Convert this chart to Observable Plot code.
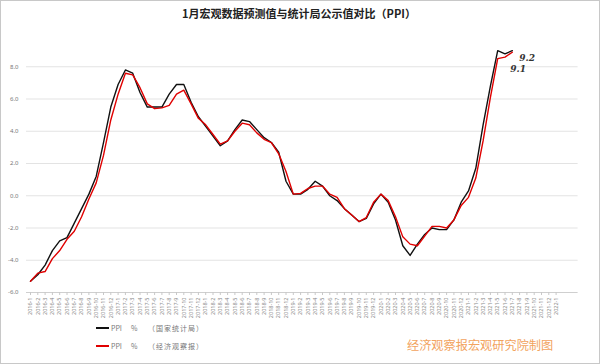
<!DOCTYPE html>
<html><head><meta charset="utf-8">
<script src="https://cdn.jsdelivr.net/npm/d3@7"></script>
<script src="https://cdn.jsdelivr.net/npm/@observablehq/plot@0.6"></script>
<style>
body{margin:0;background:#fff;}
#wrap{position:relative;width:600px;height:364px;overflow:hidden;font-family:"Noto Sans CJK SC","Noto Sans",sans-serif;background:#fff;}
#frame{position:absolute;left:0;top:0;width:600px;height:364px;box-sizing:border-box;border:1px solid #c8c8c8;pointer-events:none;}
#title{position:absolute;top:5px;left:0;width:598px;text-align:center;font-size:11px;font-weight:bold;color:#222;line-height:16px;}
#chart{position:absolute;left:0;top:0;}
.leg{position:absolute;left:96px;font-size:7px;color:#777;line-height:10px;height:10px;white-space:nowrap;}
.leg .sw{position:absolute;left:0;top:4px;width:13px;height:2px;}
.leg .a{position:absolute;left:15px;top:0;}
.leg .b{position:absolute;left:35px;top:0;}
.leg .c{position:absolute;left:52px;top:0;letter-spacing:1px;}
#mark{position:absolute;left:407px;top:337px;font-size:12.2px;color:#f2a35e;line-height:16px;white-space:nowrap;}
</style></head>
<body>
<div id="wrap">
  <div id="chart"></div>
  <div id="title"></div>
  <div class="leg" id="leg1" style="top:323px"><span class="sw" style="background:#111"></span><span class="a"></span><span class="b"></span><span class="c"></span></div>
  <div class="leg" id="leg2" style="top:341px"><span class="sw" style="background:#e00000"></span><span class="a"></span><span class="b"></span><span class="c"></span></div>
  <div id="mark"></div>
  <div id="frame"></div>
</div>
<script>
const titleText = "1月宏观数据预测值与统计局公示值对比（PPI）";
const watermark = "经济观察报宏观研究院制图";
const seriesNames = ["PPI", "PPI"];
const seriesUnits = ["%", "%"];
const seriesSources = ["（国家统计局）", "（经济观察报）"];
const annotations = ["9.2", "9.1"];

const months = [
 "2016-1","2016-2","2016-3","2016-4","2016-5","2016-6","2016-7","2016-8","2016-9","2016-10","2016-11","2016-12",
 "2017-1","2017-2","2017-3","2017-4","2017-5","2017-6","2017-7","2017-8","2017-9","2017-10","2017-11","2017-12",
 "2018-1","2018-2","2018-3","2018-4","2018-5","2018-6","2018-7","2018-8","2018-9","2018-10","2018-11","2018-12",
 "2019-1","2019-2","2019-3","2019-4","2019-5","2019-6","2019-7","2019-8","2019-9","2019-10","2019-11","2019-12",
 "2020-1","2020-2","2020-3","2020-4","2020-5","2020-6","2020-7","2020-8","2020-9","2020-10","2020-11","2020-12",
 "2021-1","2021-2","2021-3","2021-4","2021-5","2021-6","2021-7","2021-8","2021-9","2021-10","2021-11","2021-12",
 "2022-1"
];

// 国家统计局
const actual = [
 -5.3,-4.9,-4.3,-3.4,-2.8,-2.6,-1.7,-0.8,0.1,1.2,3.3,5.5,
 6.9,7.8,7.6,6.4,5.5,5.5,5.5,6.3,6.9,6.9,5.8,4.9,
 4.3,3.7,3.1,3.4,4.1,4.7,4.6,4.1,3.6,3.3,2.7,0.9,
 0.1,0.1,0.4,0.9,0.6,0.0,-0.3,-0.8,-1.2,-1.6,-1.4,-0.5,
 0.1,-0.4,-1.5,-3.1,-3.7,-3.0,-2.4,-2.0,-2.1,-2.1,-1.5,-0.4,
 0.3,1.7,4.4,6.8,9.0,8.8,9.0
];
// 经济观察报
const forecast = [
 -5.3,-4.8,-4.7,-3.9,-3.4,-2.7,-2.2,-1.3,-0.2,0.8,2.5,4.7,
 6.3,7.6,7.5,6.7,5.7,5.4,5.45,5.6,6.3,6.55,5.7,4.8,
 4.4,3.8,3.2,3.4,4.0,4.5,4.4,3.9,3.5,3.3,2.6,1.5,
 0.1,0.15,0.45,0.6,0.6,0.1,-0.1,-0.8,-1.2,-1.6,-1.35,-0.4,
 0.1,-0.3,-1.3,-2.55,-3.0,-3.1,-2.5,-1.9,-1.9,-2.0,-1.5,-0.6,
 -0.1,1.1,3.4,6.1,8.5,8.6,8.9
];
const yTicks = [-6, -4, -2, 0, 2, 4, 6, 8];

document.getElementById("title").textContent = titleText;
document.getElementById("mark").textContent = watermark;
["leg1","leg2"].forEach((id, i) => {
  const el = document.getElementById(id);
  el.querySelector(".a").textContent = seriesNames[i];
  el.querySelector(".b").textContent = seriesUnits[i];
  el.querySelector(".c").textContent = seriesSources[i];
});

const actualData = actual.map((v, i) => ({m: months[i], v}));
const forecastData = forecast.map((v, i) => ({m: months[i], v}));
const lastA = actualData[actualData.length - 1];

const chart = Plot.plot({
  width: 600, height: 320,
  marginLeft: 30, marginRight: 44.4, marginTop: 34, marginBottom: 28,
  x: {type: "point", domain: months, padding: 0, round: false, label: null},
  y: {domain: [-6, 10], label: null},
  style: {background: "transparent", fontFamily: "'Noto Sans','DejaVu Sans',sans-serif"},
  marks: [
    Plot.ruleY(yTicks.filter(d => d !== -6), {stroke: "#e3e3e3", strokeWidth: 1, insetLeft: -4, insetRight: -22}),
    Plot.ruleY([-6], {stroke: "#cfcfcf", strokeWidth: 1, insetLeft: -4, insetRight: -22}),
    Plot.axisY({ticks: yTicks, tickFormat: d => d.toFixed(1), tickSize: 0, tickPadding: 12, fontSize: 6, fill: "#777", label: null}),
    Plot.axisX({tickRotate: -90, tickSize: 3, tickPadding: 2, fontSize: 5.5, fill: "#888", stroke: "#c8c8c8", label: null}),
    Plot.lineY(actualData, {x: "m", y: "v", stroke: "#111", strokeWidth: 1.4}),
    Plot.lineY(forecastData, {x: "m", y: "v", stroke: "#e00000", strokeWidth: 1.4}),
    Plot.text([lastA], {x: "m", y: "v", text: () => annotations[0], dx: 7, dy: 7, textAnchor: "start",
      fontSize: 9, fontWeight: "bold", fontStyle: "italic", fontFamily: "'DejaVu Serif','Liberation Serif',serif", fill: "#333"}),
    Plot.text([lastA], {x: "m", y: "v", text: () => annotations[1], dx: -2, dy: 18, textAnchor: "start",
      fontSize: 9, fontWeight: "bold", fontStyle: "italic", fontFamily: "'DejaVu Serif','Liberation Serif',serif", fill: "#333"})
  ]
});
document.getElementById("chart").appendChild(chart);
</script>
</body></html>
